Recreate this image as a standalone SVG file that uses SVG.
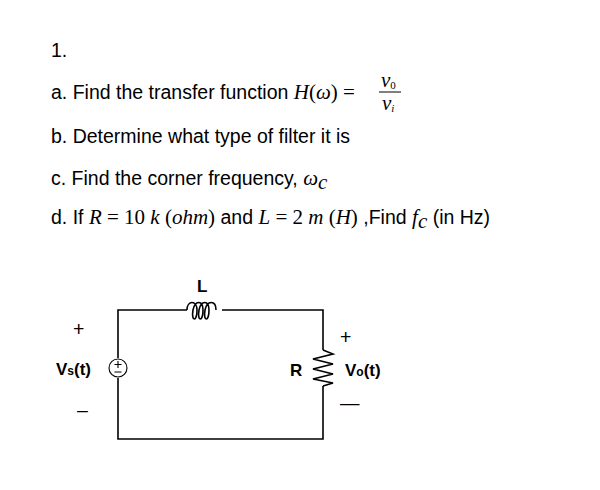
<svg xmlns="http://www.w3.org/2000/svg" width="600" height="490" viewBox="0 0 600 490">
<style>
.t{font-family:"Liberation Sans",Arial,sans-serif;font-size:19.5px;fill:#000}
.m{font-family:"Liberation Serif","DejaVu Serif",serif;font-size:21px;fill:#000}
.i{font-style:italic}
.b{font-family:"Liberation Sans",Arial,sans-serif;font-size:17px;font-weight:bold;fill:#000}
.w{fill:none;stroke:#000;stroke-width:1.6}
</style>
<rect width="600" height="490" fill="#fff"/>
<g id="text">
<text class="t" x="51" y="57">1.</text>
<text class="t" x="51" y="99">a. Find the transfer function <tspan class="m i">H</tspan><tspan class="m">(</tspan><tspan class="m i">ω</tspan><tspan class="m">) = </tspan></text>
<text class="m i" x="381" y="87" font-size="16">v<tspan font-size="11" dy="2" font-style="normal">0</tspan></text>
<line x1="379" y1="92" x2="401" y2="92" stroke="#000" stroke-width="1"/>
<text class="m i" x="382" y="110" font-size="16">v<tspan font-size="11" dy="2">i</tspan></text>
<text class="t" x="51" y="143">b. Determine what type of filter it is</text>
<text class="t" x="51" y="185">c. Find the corner frequency, <tspan class="m i">ω</tspan><tspan class="m i" font-size="13" dy="4">c</tspan></text>
<text class="t" x="51" y="224">d. If <tspan class="m i">R</tspan><tspan class="m"> = 10 </tspan><tspan class="m i">k</tspan><tspan class="m"> (</tspan><tspan class="m i">ohm</tspan><tspan class="m">)</tspan> and <tspan class="m i">L</tspan><tspan class="m"> = 2 </tspan><tspan class="m i">m</tspan><tspan class="m"> (</tspan><tspan class="m i">H</tspan><tspan class="m">)</tspan> ,Find <tspan class="m i">f</tspan><tspan class="m i" font-size="13" dy="4">c</tspan><tspan dy="-4"> (in Hz)</tspan></text>
</g>
<g id="connectors">
<path class="w" d="M118 358 V310 H187 M222 310 H323 V350 M323 386 V439 H118 V378"/>
</g>
<g id="inductor">
<path class="w" d="M187 310 c0 -10 10 -10 10 0 c0 12 -6 12 -4 0 c2 -10 10 -10 10 0 c0 12 -6 12 -4 0 c2 -10 10 -10 10 0 c0 12 -6 12 -4 0 c2 -10 11 -10 11 0"/>
<text class="b" x="197" y="292" font-size="16">L</text>
</g>
<g id="source">
<circle cx="118" cy="368" r="9" fill="none" stroke="#000" stroke-width="1.1"/>
<path d="M114.5 364.5 H121.5 M118 361 V368 M114.5 372 H121.5" stroke="#000" stroke-width="1.1"/>
<text class="t" x="73" y="336" font-size="17">+</text>
<text class="b" x="56" y="375" font-size="17">V<tspan font-size="12">s</tspan>(t)</text>
<text class="t" x="77" y="417" font-size="17">–</text>
</g>
<g id="resistor">
<path class="w" d="M323 350 L333 354 L313 359 L333 364 L313 369 L333 374 L313 379 L333 383 L323 386"/>
<text class="b" x="290" y="376" font-size="17">R</text>
<text class="t" x="340" y="344" font-size="22">+</text>
<text class="b" x="345" y="376" font-size="17">V<tspan font-size="12">o</tspan>(t)</text>
<text class="t" x="340" y="410" font-size="20">—</text>
</g>
</svg>
